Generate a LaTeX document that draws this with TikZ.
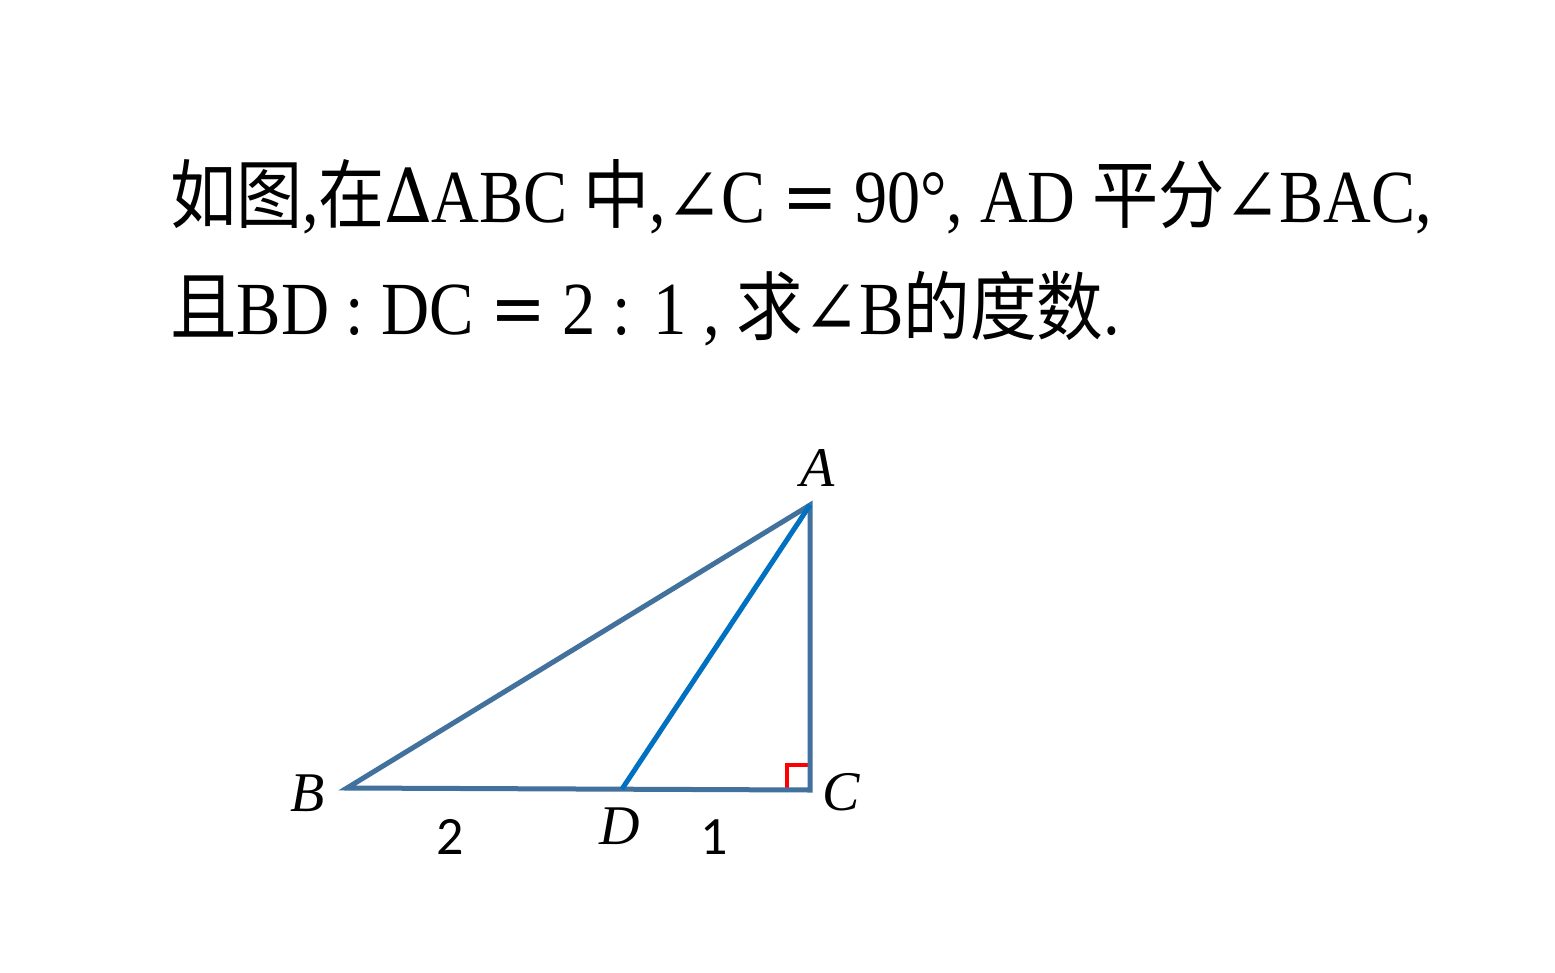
\documentclass[tikz,border=0pt]{standalone}
\usepackage{fontspec}
\usepackage{graphicx}
\setmainfont{Liberation Serif}
\newfontfamily\cjk{Noto Sans CJK SC}
\newfontfamily\symf{DejaVu Serif}
\newfontfamily\numf{Carlito}
\definecolor{triblue}{HTML}{41719C}
\definecolor{adblue}{HTML}{0070C0}
\tikzset{
  tri/.style={draw=triblue, line width=5pt},
  bis/.style={draw=adblue, line width=5pt},
  rmark/.style={draw=red, line width=3.5pt},
  vlab/.style={inner sep=0pt, font=\fontsize{56}{60}\selectfont\itshape},
  nlab/.style={inner sep=0pt, font=\fontsize{54}{60}\selectfont\numf},
  txt/.style={anchor=base west, inner sep=0pt}
}
\begin{document}
\begin{tikzpicture}[x=1pt,y=-1pt]
\useasboundingbox (0,0) rectangle (1555,972);
\fill[white] (0,0) rectangle (1555,972);
\node[txt] (l1) at (170,222) {\resizebox{1262pt}{\height}{\fontsize{75}{90}\selectfont {\cjk 如图},{\cjk 在}{\symf ∆}ABC {\cjk 中},{\symf ∠}C {\symf =} 90°, AD {\cjk 平分}{\symf ∠}BAC,}};
\node[txt] (l2) at (170,334) {\resizebox{950pt}{\height}{\fontsize{75}{90}\selectfont {\cjk 且}BD : DC {\symf =} 2 : 1 , {\cjk 求}{\symf ∠}B{\cjk 的度数}.}};
\coordinate (A) at (810,505);
\coordinate (B) at (347,788);
\coordinate (C) at (810,790);
\coordinate (D) at (622,789);
\coordinate (R1) at (787,790);
\coordinate (R2) at (787,765);
\coordinate (R3) at (810,765);
\draw[rmark] (R1) -- (R2) -- (R3);
\draw[tri] (A) -- (B) -- (C) -- cycle;
\draw[bis] (A) -- (D);
\node[vlab] (lA) at (818,468) {A};
\node[vlab] (lB) at (308,793) {B};
\node[vlab] (lC) at (841,792) {C};
\node[vlab] (lD) at (620,826) {D};
\node[nlab] (n2) at (450,837) {2};
\node[nlab] (n1) at (714,837) {1};
\end{tikzpicture}
\end{document}
